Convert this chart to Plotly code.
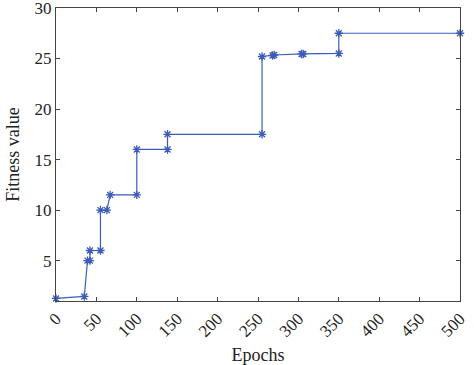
import plotly.graph_objects as go

epochs = [0, 35, 39, 42, 42, 55, 55, 63, 67, 100, 100, 138, 138, 255, 255, 268, 270, 304, 306, 350, 350, 500]
fitness = [1.25, 1.45, 5.0, 5.0, 6.0, 6.0, 10.0, 10.0, 11.5, 11.5, 16.0, 16.0, 17.5, 17.5, 25.2, 25.3, 25.35, 25.45, 25.45, 25.5, 27.5, 27.5]
x_ticks = [0, 50, 100, 150, 200, 250, 300, 350, 400, 450, 500]
y_ticks = [5, 10, 15, 20, 25, 30]

color = "#3d5cb8"
fig = go.Figure()
fig.add_trace(go.Scatter(
    x=epochs, y=fitness, mode="lines+markers",
    line=dict(color=color, width=1.2),
    marker=dict(symbol="asterisk-open", size=7, color=color, line=dict(color=color, width=1.3)),
    showlegend=False, cliponaxis=False,
))

axis_common = dict(
    showgrid=False, zeroline=False, showline=True, linecolor="#444", linewidth=1,
    mirror="ticks", ticks="inside", ticklen=4, tickcolor="#444", automargin=False,
    ticklabeloverflow="allow",
    tickfont=dict(family="Liberation Serif", size=17, color="#222"),
)
fig.update_xaxes(range=[0, 500], tickvals=x_ticks, tickangle=-45,
                 title=dict(text="Epochs", font=dict(family="Liberation Serif", size=18, color="#222"), standoff=8),
                 **axis_common)
fig.update_yaxes(range=[1, 30], tickvals=y_ticks,
                 title=dict(text="Fitness value", font=dict(family="Liberation Serif", size=18, color="#222"), standoff=10),
                 **axis_common)
fig.update_layout(
    width=474, height=365,
    margin=dict(l=56, r=14, t=8, b=64, autoexpand=False),
    plot_bgcolor="white", paper_bgcolor="white",
)
fig.write_html("out.html", config={"displayModeBar": False},
               post_script="document.body.style.margin='0';document.body.style.overflow='hidden';")
